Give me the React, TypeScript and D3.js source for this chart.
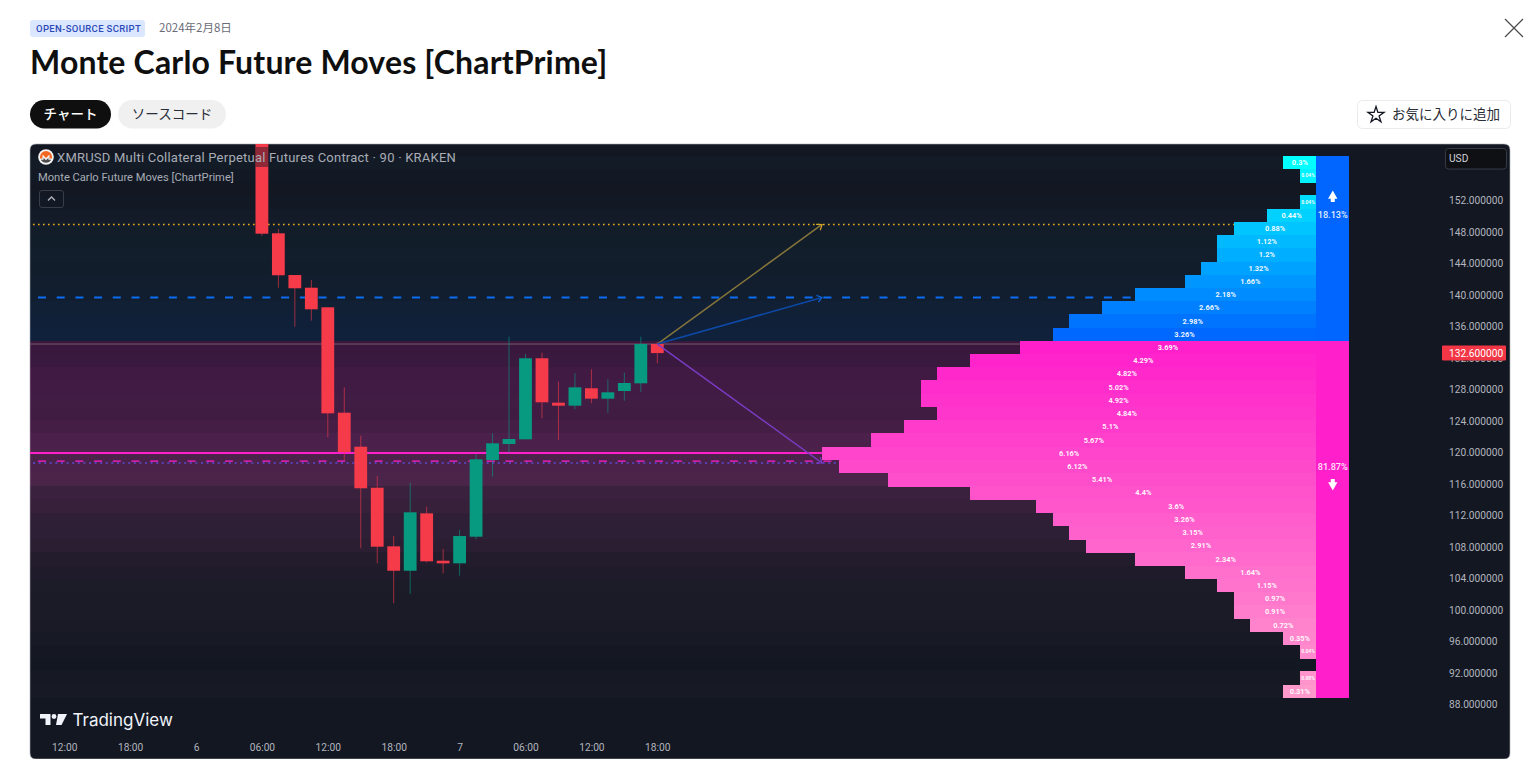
import React, { useEffect, useRef } from 'react';
import * as d3 from 'd3';

// bar index 0 is the 12:00 bar of the 5th, one bar is 90 minutes
const firstBar = 12;
const opens = [160, 147.81, 142.51, 140.9, 138.41, 125.03, 120.71, 115.5, 108.06, 104.96, 112.25, 106.23, 105.9, 109.28, 119.02, 121.05, 121.65, 131.94, 126.3, 125.92, 128.13, 126.81, 127.78, 128.76, 133.75];
const highs = [161, 148.36, 142.51, 141.88, 138.41, 128.25, 122.11, 116.99, 109.37, 116.14, 113.09, 107.72, 110.13, 119.78, 122.41, 134.68, 132.48, 132.65, 128.97, 130.03, 130.54, 129.27, 130.11, 134.68, 134.04];
const lows = [147.5, 140.9, 135.95, 136.71, 121.9, 119.02, 107.81, 105.9, 100.83, 102.01, 106.03, 104.63, 104.33, 108.95, 116.9, 119.95, 121.65, 124.32, 121.56, 125.46, 126.22, 125.03, 126.55, 127.66, 131.3];
const closes = [147.76, 142.48, 140.83, 138.16, 124.95, 120.04, 115.43, 108.01, 104.96, 112.38, 106.16, 105.9, 109.37, 119.11, 121.14, 121.69, 131.94, 126.35, 125.92, 128.25, 126.81, 127.62, 128.8, 133.75, 132.6];

const priceTicks = d3.range(88, 153, 4);
const timeTickBars = [0, 4, 8, 12, 16, 20, 24, 28, 32, 36];
const timeTickLabels = ['12:00', '18:00', '6', '06:00', '12:00', '18:00', '7', '06:00', '12:00', '18:00'];

// distribution rows, top to bottom. Bars = how many chart bars the row spans
const upperPct = [0.3, 0.04, 0, 0.04, 0.44, 0.88, 1.12, 1.2, 1.32, 1.66, 2.18, 2.66, 2.98, 3.26];
const upperBars = [2, 1, 0, 1, 3, 5, 6, 6, 7, 8, 11, 13, 15, 16];
const lowerPct = [3.69, 4.29, 4.82, 5.02, 4.92, 4.84, 5.1, 5.67, 6.16, 6.12, 5.41, 4.4, 3.6, 3.26, 3.15, 2.91, 2.34, 1.64, 1.15, 0.97, 0.91, 0.72, 0.35, 0.04, 0, 0.08, 0.31];
const lowerBars = [18, 21, 23, 24, 24, 23, 25, 27, 30, 29, 26, 21, 17, 16, 15, 14, 11, 8, 6, 5, 5, 4, 2, 1, 0, 1, 2];
const upperTotal = '18.13%';
const lowerTotal = '81.87%';
const distTop = 157.65;
const distSplit = 134.16;
const distBottom = 88.83;
const distEndBar = 76;
const sideBars = 2;

const lastOpen = 133.75;
const lastClose = 132.6;
const targetHigh = 148.93;
const targetMid = 139.66;
const targetLow = 118.64;
const supportLevel = 119.91;

const font = 'Roboto, "Noto Sans", sans-serif';
const cjk = '"Noto Sans CJK JP", sans-serif';
const red = '#f53a4a';
const green = '#089981';

const App = () => {
    const chartRef = useRef<SVGGElement | null>(null);

    useEffect(() => {
        if (!chartRef.current) return;
        const g = d3.select(chartRef.current);
        g.selectAll('*').remove();

        const left = 30, right = 1510, top = 144, bottom = 759;
        const x = d3.scaleLinear().domain([0, 36]).range([64.2, 657.3]);
        const y = d3.scaleLinear().domain([88, 152]).range([704.3, 200.3]);

        const defs = g.append('defs');
        defs.append('clipPath').attr('id', 'pane')
            .append('rect').attr('x', left).attr('y', top).attr('width', right - left).attr('height', bottom - top).attr('rx', 6);

        g.append('path')
            .attr('d', `M${left + 6},${top} H${right - 6} Q${right},${top} ${right},${top + 6} V${bottom - 6} Q${right},${bottom} ${right - 6},${bottom} H${left + 6} Q${left},${bottom} ${left},${bottom - 6} V${top + 6} Q${left},${top} ${left + 6},${top} Z`)
            .attr('fill', '#131722')
            .attr('stroke', '#a9acb4')
            .attr('stroke-width', 0.6);

        const pane = g.append('g').attr('clip-path', 'url(#pane)');

        // rows of the distribution with their faint background bands
        const alpha = d3.scaleLinear()
            .domain([0, 1.15, 2.34, 3.26, 3.6, 3.69, 4.4, 5.02, 5.41, 6.16])
            .range([0.012, 0.04, 0.07, 0.12, 0.15, 0.165, 0.17, 0.2, 0.24, 0.24]);
        const upperRow = d3.scaleBand<number>().domain(d3.range(upperPct.length)).range([y(distTop), y(distSplit)]);
        const lowerRow = d3.scaleBand<number>().domain(d3.range(lowerPct.length)).range([y(distSplit), y(distBottom)]);
        const upperColor = d3.scaleLinear<string>().domain([0, upperPct.length - 1]).range(['#00ffff', '#0068ff']);
        const lowerColor = d3.scaleLinear<string>().domain([0, lowerPct.length - 1]).range(['#ff1fcb', '#ff99cc']);

        const drawRows = (pct: number[], bars: number[], row: d3.ScaleBand<number>, color: (i: number) => string, cls: string) => {
            const rows = pct.map((p, i) => ({ p, n: bars[i], i }));
            pane.selectAll(`.band-${cls}`).data(rows.filter((d) => d.p > 0)).enter().append('rect')
                .attr('x', left)
                .attr('y', (d) => row(d.i) as number)
                .attr('width', (d) => x(distEndBar - d.n) - left)
                .attr('height', row.bandwidth())
                .attr('fill', (d) => color(d.i))
                .attr('fill-opacity', (d) => alpha(d.p))
                .attr('shape-rendering', 'crispEdges');
            return rows;
        };
        const upperRows = drawRows(upperPct, upperBars, upperRow, upperColor, 'up');
        const lowerRows = drawRows(lowerPct, lowerBars, lowerRow, lowerColor, 'down');

        // levels
        const hline = (price: number, from: number, to: number, color: string, width: number, dash?: string) => {
            const l = pane.append('line')
                .attr('x1', from).attr('x2', to)
                .attr('y1', y(price)).attr('y2', y(price))
                .attr('stroke', color).attr('stroke-width', width);
            if (dash) l.attr('stroke-dasharray', dash);
        };
        hline(lastOpen, left, x(distEndBar - lowerBars[0]), '#7d5a6c', 1);
        hline(targetHigh, 33, x(distEndBar - upperBars[5]), '#f0ae1c', 1.6, '1.6 3.4');
        hline(targetMid, 38, x(distEndBar - upperBars[10]), '#0a6df2', 2, '8 10.7');
        hline(supportLevel, left, x(distEndBar - lowerBars[8]), '#ff1fcb', 1.8);
        hline(targetLow + 0.24, 38, x(distEndBar - lowerBars[9]), '#ff1fcb', 1.4, '8 10.7');
        hline(targetLow, 33, x(distEndBar - lowerBars[9]), '#5b49d6', 1.6, '2 3.6');

        // candles
        const candles = opens.map((o, i) => ({ bar: firstBar + i, o, h: highs[i], l: lows[i], c: closes[i] }));
        const candle = pane.selectAll('.candle').data(candles).enter().append('g').attr('class', 'candle');
        candle.append('line')
            .attr('x1', (d) => x(d.bar)).attr('x2', (d) => x(d.bar))
            .attr('y1', (d) => y(d.h)).attr('y2', (d) => y(d.l))
            .attr('stroke', (d) => (d.c >= d.o ? green : red))
            .attr('stroke-opacity', 0.6);
        candle.append('rect')
            .attr('x', (d) => x(d.bar) - 6.4)
            .attr('width', 12.8)
            .attr('y', (d) => y(Math.max(d.o, d.c)))
            .attr('height', (d) => Math.max(2.4, Math.abs(y(d.o) - y(d.c))))
            .attr('fill', (d) => (d.c >= d.o ? green : red));

        // arrows to the three targets
        const arrow = (target: number, color: string, head: string) => {
            const x0 = x(firstBar + opens.length - 1), y0 = y(lastOpen);
            const x1 = x(distEndBar - 30), y1 = y(target);
            const a = Math.atan2(y1 - y0, x1 - x0);
            pane.append('line').attr('x1', x0).attr('y1', y0).attr('x2', x1).attr('y2', y1)
                .attr('stroke', color).attr('stroke-width', 1.5);
            const p = d3.path();
            p.moveTo(x1 + 6 * Math.cos(a + 2.5), y1 + 6 * Math.sin(a + 2.5));
            p.lineTo(x1, y1);
            p.lineTo(x1 + 6 * Math.cos(a - 2.5), y1 + 6 * Math.sin(a - 2.5));
            pane.append('path').attr('d', p.toString()).attr('fill', 'none').attr('stroke', head).attr('stroke-width', 1.2);
        };
        arrow(targetHigh, '#86763a', '#d2a22a');
        arrow(targetMid, '#0d4aa8', '#1262d0');
        arrow(targetLow, '#7a3cc4', '#7a3cc4');

        // filled rows and labels on top
        const fillRows = (rows: { p: number; n: number; i: number }[], row: d3.ScaleBand<number>, color: (i: number) => string) => {
            const shown = rows.filter((d) => d.n > 0);
            pane.append('g').selectAll('rect').data(shown).enter().append('rect')
                .attr('x', (d) => x(distEndBar - d.n))
                .attr('y', (d) => row(d.i) as number)
                .attr('width', (d) => x(distEndBar) - x(distEndBar - d.n) + 0.5)
                .attr('height', row.bandwidth() + 0.4)
                .attr('fill', (d) => color(d.i))
                .attr('shape-rendering', 'crispEdges');
            pane.append('g').selectAll('text').data(shown).enter().append('text')
                .attr('x', (d) => (x(distEndBar) + x(distEndBar - d.n)) / 2)
                .attr('y', (d) => (row(d.i) as number) + row.bandwidth() / 2)
                .attr('dy', '0.35em')
                .attr('text-anchor', 'middle')
                .attr('fill', '#fff')
                .attr('fill-opacity', 0.95)
                .attr('font-family', font)
                .attr('font-weight', 700)
                .attr('font-size', (d) => (d.n === 1 ? 5 : 7.4))
                .text((d) => `${d.p}%`);
        };
        fillRows(upperRows, upperRow, upperColor);
        fillRows(lowerRows, lowerRow, lowerColor);

        // totals column
        const sideX0 = x(distEndBar), sideX1 = x(distEndBar + sideBars), sideMid = (sideX0 + sideX1) / 2;
        pane.append('rect').attr('x', sideX0).attr('y', y(distTop)).attr('width', sideX1 - sideX0).attr('height', y(distSplit) - y(distTop)).attr('fill', '#0066ff').attr('shape-rendering', 'crispEdges');
        pane.append('rect').attr('x', sideX0).attr('y', y(distSplit)).attr('width', sideX1 - sideX0).attr('height', y(distBottom) - y(distSplit)).attr('fill', '#ff1fcb').attr('shape-rendering', 'crispEdges');
        [{ t: upperTotal, ty: 214.5, ay: 197, dir: -1 }, { t: lowerTotal, ty: 466.5, ay: 484, dir: 1 }].forEach((d) => {
            pane.append('text').attr('x', sideMid).attr('y', d.ty).attr('dy', '0.35em').attr('text-anchor', 'middle')
                .attr('fill', '#fff').attr('fill-opacity', 0.9).attr('font-family', font).attr('font-weight', 500).attr('font-size', 9.2).text(d.t);
            const tri = d3.symbol().type(d3.symbolTriangle).size(38)();
            pane.append('path').attr('d', tri).attr('fill', '#fff')
                .attr('transform', `translate(${sideMid},${d.ay + d.dir * 1}) rotate(${d.dir > 0 ? 180 : 0})`);
            pane.append('rect').attr('x', sideMid - 2).attr('width', 4).attr('height', 5)
                .attr('y', d.dir > 0 ? d.ay - 5 : d.ay).attr('fill', '#fff');
        });

        // price axis
        const yAxis = g.append('g').attr('transform', 'translate(1449,0)')
            .call(d3.axisRight(y).tickValues(priceTicks).tickSize(0).tickPadding(0).tickFormat((v) => d3.format('.6f')(v as number)));
        yAxis.select('.domain').remove();
        yAxis.selectAll('text').attr('fill', '#b2b5be').attr('font-family', font).attr('font-size', 10.2);

        // time axis
        const xAxis = g.append('g').attr('transform', 'translate(0,743.5)')
            .call(d3.axisBottom(x).tickValues(timeTickBars).tickSize(0).tickPadding(0).tickFormat((_v, i) => timeTickLabels[i]));
        xAxis.select('.domain').remove();
        xAxis.selectAll('text').attr('fill', '#b2b5be').attr('font-family', font).attr('font-size', 10.2);

        // last price tag
        g.append('rect').attr('x', 1442).attr('y', y(lastClose) - 7.5).attr('width', 64).attr('height', 15).attr('rx', 1).attr('fill', '#f23645');
        g.append('text').attr('x', 1449).attr('y', y(lastClose)).attr('dy', '0.35em').attr('fill', '#fff')
            .attr('font-family', font).attr('font-size', 10.2).text(d3.format('.6f')(lastClose));
    }, []);

    return (
        <svg width={1536} height={759} style={{ position: 'absolute', left: 0, top: 0, display: 'block', background: '#fff' }}>
            {/* page header */}
            <rect x={30} y={20} width={115} height={17} rx={3} fill="#dbe6ff" />
            <text x={36} y={32} fontFamily={font} fontSize={9.5} fontWeight={500} letterSpacing={0.35} fill="#2b4ab8">OPEN-SOURCE SCRIPT</text>
            <text x={159} y={32} fontFamily={cjk} fontSize={11.5} fill="#6a6d78">2024年2月8日</text>
            <text x={30} y={74} fontFamily="Lato, sans-serif" fontSize={32} fontWeight={700} letterSpacing={0.16} fill="#0f0f0f">Monte Carlo Future Moves [ChartPrime]</text>
            <rect x={30} y={100} width={81} height={28.5} rx={14.2} fill="#0f0f0f" />
            <text x={70.5} y={119} textAnchor="middle" fontFamily={cjk} fontSize={13.5} fontWeight={500} fill="#fff">チャート</text>
            <rect x={118} y={100} width={108} height={28.5} rx={14.2} fill="#f0f0f0" />
            <text x={172} y={119} textAnchor="middle" fontFamily={cjk} fontSize={13.5} fill="#2a2e39">ソースコード</text>
            <rect x={1357.5} y={100.5} width={153} height={28} rx={5} fill="#fff" stroke="#ebebeb" />
            <path d={d3.symbol().type(d3.symbolStar).size(80)() as string} transform="translate(1376,115)" fill="none" stroke="#131722" strokeWidth={1.3} />
            <text x={1392} y={119} fontFamily={cjk} fontSize={13.5} fill="#2a2e39">お気に入りに追加</text>
            <path d="M1505,19 L1523,37 M1523,19 L1505,37" stroke="#4a4a4a" strokeWidth={1.2} fill="none" />

            <g ref={chartRef} />

            {/* pane legend and overlays */}
            <rect x={255.7} y={147} width={13} height={20} fill="#131722" fillOpacity={0.45} />
            <circle cx={46} cy={157} r={7.8} fill="#f4f4f4" />
            <path d="M40,157 a6,6 0 0 1 12,0 v1.5 h-2.5 v-4 l-3.5,3.5 l-3.5,-3.5 v4 h-2.5 Z" fill="#f26822" />
            <path d="M40.8,159.8 h2.8 v-2 l2.4,2.4 l2.4,-2.4 v2 h2.8 a6,6 0 0 1 -10.4,0 Z" fill="#4c4c4c" />
            <text x={57} y={162} fontFamily={font} fontSize={13} letterSpacing={0.23} fill="#a9acb5">XMRUSD Multi Collateral Perpetual Futures Contract · 90 · KRAKEN</text>
            <text x={38} y={181} fontFamily={font} fontSize={11.15} fill="#a9acb5">Monte Carlo Future Moves [ChartPrime]</text>
            <rect x={39.5} y={190.5} width={24} height={17} rx={2.5} fill="none" stroke="#3a3d47" />
            <path d="M48,200.5 L51.5,197 L55,200.5" fill="none" stroke="#b2b5be" strokeWidth={1.3} />
            <rect x={1445.5} y={148.5} width={61} height={20.5} rx={3} fill="#0f1013" stroke="#363a45" />
            <text x={1449} y={162} fontFamily={font} fontSize={10.2} fill="#d1d4dc">USD</text>

            {/* TradingView mark */}
            <path d="M40,714 h10.5 v11 h-5 v-6.5 h-5.5 Z M58,714 h9 l-5.5,11 h-5.5 Z" fill="#f0f3fa" />
            <circle cx={54} cy={716.5} r={2.4} fill="#f0f3fa" />
            <text x={72.5} y={725.5} fontFamily="Inter, sans-serif" fontSize={17} fontWeight={400} fill="#f0f3fa">TradingView</text>
        </svg>
    );
};

export default App;
